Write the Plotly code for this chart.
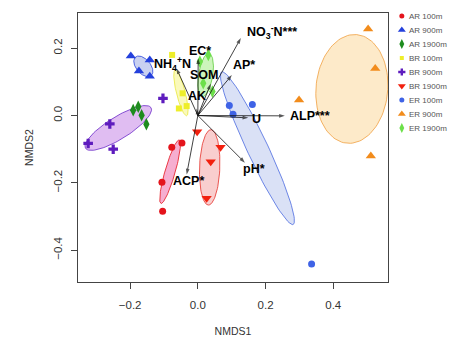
import numpy as np
import plotly.graph_objects as go

# ---------------- data ----------------
groups = ["AR 100m", "AR 900m", "AR 1900m", "BR 100m", "BR 900m",
          "BR 1900m", "ER 100m", "ER 900m", "ER 1900m"]

ar100_x = [-0.077, -0.047, -0.106, -0.104]
ar100_y = [-0.094, -0.082, -0.198, -0.284]
ar900_x = [-0.198, -0.142, -0.174, -0.142]
ar900_y = [0.177, 0.165, 0.132, 0.117]
ar1900_x = [-0.191, -0.176, -0.166, -0.152]
ar1900_y = [0.016, 0.026, 0.001, -0.026]
br100_x = [-0.076, -0.045, -0.056, -0.033]
br100_y = [0.180, 0.066, 0.021, 0.028]
br900_x = [-0.103, -0.260, -0.324, -0.250]
br900_y = [0.051, -0.025, -0.083, -0.100]
br1900_x = [-0.002, 0.067, 0.038, 0.026]
br1900_y = [-0.048, -0.094, -0.137, -0.246]
er100_x = [0.093, 0.161, 0.104, 0.336]
er100_y = [0.030, 0.033, 0.004, -0.441]
er900_x = [0.503, 0.524, 0.299, 0.511]
er900_y = [0.257, 0.140, 0.046, -0.120]
er1900_x = [0.006, 0.031, 0.016, 0.043]
er1900_y = [0.160, 0.180, 0.096, 0.071]

# ellipses per group: centre x, centre y, semi-major, semi-minor, angle (deg)
ell_groups = ["AR 100m", "AR 900m", "BR 100m", "BR 900m", "BR 1900m",
              "ER 100m", "ER 900m", "ER 1900m"]
ell_cx = [-0.082, -0.161, -0.050, -0.235, 0.035, 0.176, 0.455, 0.023]
ell_cy = [-0.167, 0.146, 0.067, -0.037, -0.154, -0.097, 0.079, 0.120]
ell_a = [0.098, 0.036, 0.070, 0.114, 0.112, 0.250, 0.162, 0.065]
ell_b = [0.015, 0.021, 0.013, 0.033, 0.030, 0.031, 0.106, 0.021]
ell_ang = [74, -50, 104, 32, 88, 115, 85, 81]

# environmental fit vectors
vec_labels = ["NO<sub>3</sub><sup>-</sup>N***", "AP*", "EC*", "SOM", "AK",
              "NH<sub>4</sub><sup>+</sup>N", "U", "ALP***", "pH*", "ACP*"]
vec_x = [0.127, 0.1005, 0.001, 0.038, -0.004, -0.063, 0.149, 0.257, 0.139, -0.033]
vec_y = [0.230, 0.120, 0.170, 0.094, 0.021, 0.140, -0.007, -0.001, -0.140, -0.175]

x_tickvals = [-0.2, 0.0, 0.2, 0.4]
x_ticktext = ["\u22120.2", "0.0", "0.2", "0.4"]
y_tickvals = [-0.4, -0.2, 0.0, 0.2]
y_ticktext = ["\u22120.4", "\u22120.2", "0.0", "0.2"]

# ---------------- styles ----------------
pts = {
    "AR 100m": (ar100_x, ar100_y),
    "AR 900m": (ar900_x, ar900_y),
    "AR 1900m": (ar1900_x, ar1900_y),
    "BR 100m": (br100_x, br100_y),
    "BR 900m": (br900_x, br900_y),
    "BR 1900m": (br1900_x, br1900_y),
    "ER 100m": (er100_x, er100_y),
    "ER 900m": (er900_x, er900_y),
    "ER 1900m": (er1900_x, er1900_y),
}
style = {
    "AR 100m": ("circle", "#E4141C", 7),
    "AR 900m": ("triangle-up", "#2440DC", 9),
    "AR 1900m": ("diamond-tall", "#1E8C1E", 9),
    "BR 100m": ("square", "#EEEE2A", 6),
    "BR 900m": ("cross", "#5E1CBE", 8),
    "BR 1900m": ("triangle-down", "#F2200E", 9),
    "ER 100m": ("circle", "#3F63E6", 7),
    "ER 900m": ("triangle-up", "#F28C1C", 9),
    "ER 1900m": ("diamond-tall", "#6CE04A", 9),
}
ell_style = {
    "AR 100m": ("rgba(244,160,200,0.85)", "#E4141C"),
    "AR 900m": ("rgba(195,204,240,0.9)", "#2440DC"),
    "BR 100m": ("rgba(250,248,180,0.9)", "#E8E83A"),
    "BR 900m": ("rgba(218,178,240,0.85)", "#6A2AC8"),
    "BR 1900m": ("rgba(248,198,198,0.85)", "#E4302A"),
    "ER 100m": ("rgba(212,220,245,0.85)", "#4A6AE0"),
    "ER 900m": ("rgba(253,230,192,0.85)", "#F0A040"),
    "ER 1900m": ("rgba(198,244,180,0.9)", "#5CCC3A"),
}
# label offsets in pixels: (xanchor, xshift, yshift)
lab_off = [("left", 4, 6), ("left", -1, 10), ("center", 2, 7), ("center", -7, 9),
           ("center", 1, 12), ("center", -4, 4), ("left", 2, -1), ("left", 3, 0),
           ("center", 9, -6), ("center", 2, -7)]

FONT = "Liberation Sans, Arial, sans-serif"
fig = go.Figure()

# ellipses
t = np.linspace(0, 2 * np.pi, 100)
for g, cx, cy, a, b, ang in zip(ell_groups, ell_cx, ell_cy, ell_a, ell_b, ell_ang):
    th = np.deg2rad(ang)
    ex = cx + a * np.cos(t) * np.cos(th) - b * np.sin(t) * np.sin(th)
    ey = cy + a * np.cos(t) * np.sin(th) + b * np.sin(t) * np.cos(th)
    fc, lc = ell_style[g]
    fig.add_trace(go.Scatter(x=ex, y=ey, mode="lines", fill="toself",
                             fillcolor=fc, line=dict(color=lc, width=0.8),
                             hoverinfo="skip", showlegend=False))

# points
for g in groups:
    sym, col, sz = style[g]
    x, y = pts[g]
    fig.add_trace(go.Scatter(x=x, y=y, mode="markers", name=g, showlegend=False,
                             marker=dict(symbol=sym, color=col, size=sz,
                                         line=dict(width=0))))

# arrows (lines from origin with arrow-head markers) + labels
for lab, vx, vy, (xa, xs, ys) in zip(vec_labels, vec_x, vec_y, lab_off):
    fig.add_trace(go.Scatter(x=[0, vx], y=[0, vy], mode="lines+markers",
                             line=dict(color="#111111", width=0.8),
                             marker=dict(symbol=["circle", "arrow"], size=[0, 6],
                                         angleref="previous", color="#111111",
                                         line=dict(width=0)),
                             hoverinfo="skip", showlegend=False))
    fig.add_annotation(x=vx, y=vy, xref="x", yref="y", text="<b>%s</b>" % lab,
                       showarrow=False, xanchor=xa, yanchor="middle",
                       xshift=xs, yshift=ys,
                       font=dict(family=FONT, size=12.5, color="#000000"))

# manual legend on a hidden side axis
for i, g in enumerate(groups):
    sym, col, sz = style[g]
    fig.add_trace(go.Scatter(x=[7], y=[-i], xaxis="x2", yaxis="y2", mode="markers",
                             marker=dict(symbol=sym, color=col, size=sz - 2,
                                         line=dict(width=0)),
                             showlegend=False, hoverinfo="skip"))
    fig.add_annotation(x=12, y=-i, xref="x2", yref="y2", text=g, showarrow=False,
                       xanchor="left", yanchor="middle",
                       font=dict(family=FONT, size=8, color="#555555"))

axis_common = dict(showgrid=False, zeroline=False, showline=True, mirror=True,
                   linecolor="#444444", linewidth=1, ticks="outside", ticklen=6,
                   tickcolor="#444444", tickwidth=1,
                   tickfont=dict(family=FONT, size=11.5, color="#333333"))

fig.update_layout(
    width=474, height=353,
    margin=dict(l=78, r=0, t=13, b=71),
    paper_bgcolor="white", plot_bgcolor="white",
    showlegend=False,
    font=dict(family=FONT),
    xaxis=dict(domain=[0, 0.7828], range=[-0.354, 0.5617],
               tickvals=x_tickvals, ticktext=x_ticktext,
               title=dict(text="NMDS1", font=dict(family=FONT, size=10.5, color="#333333"),
                          standoff=17),
               ticklabelstandoff=6,
               **axis_common),
    yaxis=dict(range=[-0.4945, 0.3045], tickvals=y_tickvals, ticktext=y_ticktext,
               tickangle=-90,
               title=dict(text="NMDS2", font=dict(family=FONT, size=10.5, color="#333333"),
                          standoff=16),
               ticklabelstandoff=4,
               **axis_common),
    xaxis2=dict(domain=[0.80, 1.0], range=[0, 79], visible=False, anchor="y2"),
    yaxis2=dict(domain=[0, 1], range=[-19.0, 0.214], visible=False, anchor="x2"),
)

fig.write_html("out.html")
